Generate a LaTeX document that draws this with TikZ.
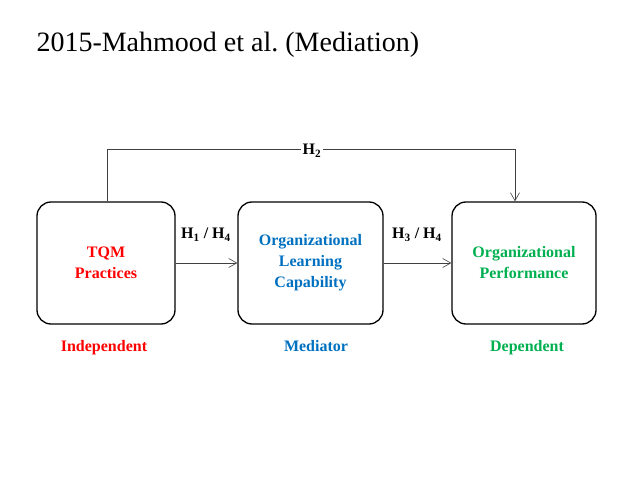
\documentclass[tikz,border=0pt]{standalone}
\usepackage{fontspec}
\setmainfont{Liberation Serif}
\usetikzlibrary{arrows.meta}
\definecolor{cred}{HTML}{FF0000}
\definecolor{cblue}{HTML}{0070C0}
\definecolor{cgreen}{HTML}{00B050}
\tikzset{
  box/.style={draw=black, line width=1.3pt, rounded corners=14pt, minimum width=138pt, minimum height=122pt, align=center, font=\fontsize{16}{21}\selectfont\bfseries},
  lbl/.style={font=\fontsize{16}{19}\selectfont\bfseries, anchor=base},
  con/.style={draw=black!75, line width=0.6pt, -{Straight Barb[length=8pt,width=9pt]}}
}
\begin{document}
\frenchspacing
\begin{tikzpicture}[x=1pt,y=-1pt]
\useasboundingbox (0,0) rectangle (638,478);
\node[anchor=west, font=\fontsize{28}{32}\selectfont] (title) at (33,45) {2015-Mahmood et al. (Mediation)};
\node[box, text=cred] (a) at (106,263) {TQM\\Practices};
\node[box, minimum width=145pt, text=cblue] (b) at (310.5,263) {Organizational\\Learning\\Capability};
\node[box, minimum width=144pt, text=cgreen] (c) at (524,263) {Organizational\\Performance};
\draw[con] (a.east) -- (b.west);
\draw[con] (b.east) -- (c.west);
\coordinate (p1) at (107,149);
\coordinate (p2) at (515,149);
\draw[con] (a.north -| p1) -- (p1) -- (p2) -- (c.north -| p2);
\node[lbl, fill=white, inner sep=2pt, anchor=center] (h2) at (312,151) {H\textsubscript{2}};
\node[lbl] (h14) at (206,239) {H\textsubscript{1} / H\textsubscript{4}};
\node[lbl] (h34) at (417,239) {H\textsubscript{3} / H\textsubscript{4}};
\node[lbl, text=cred] (ind) at (104,352) {Independent};
\node[lbl, text=cblue] (med) at (316,352) {Mediator};
\node[lbl, text=cgreen] (dep) at (527,352) {Dependent};
\end{tikzpicture}
\end{document}
